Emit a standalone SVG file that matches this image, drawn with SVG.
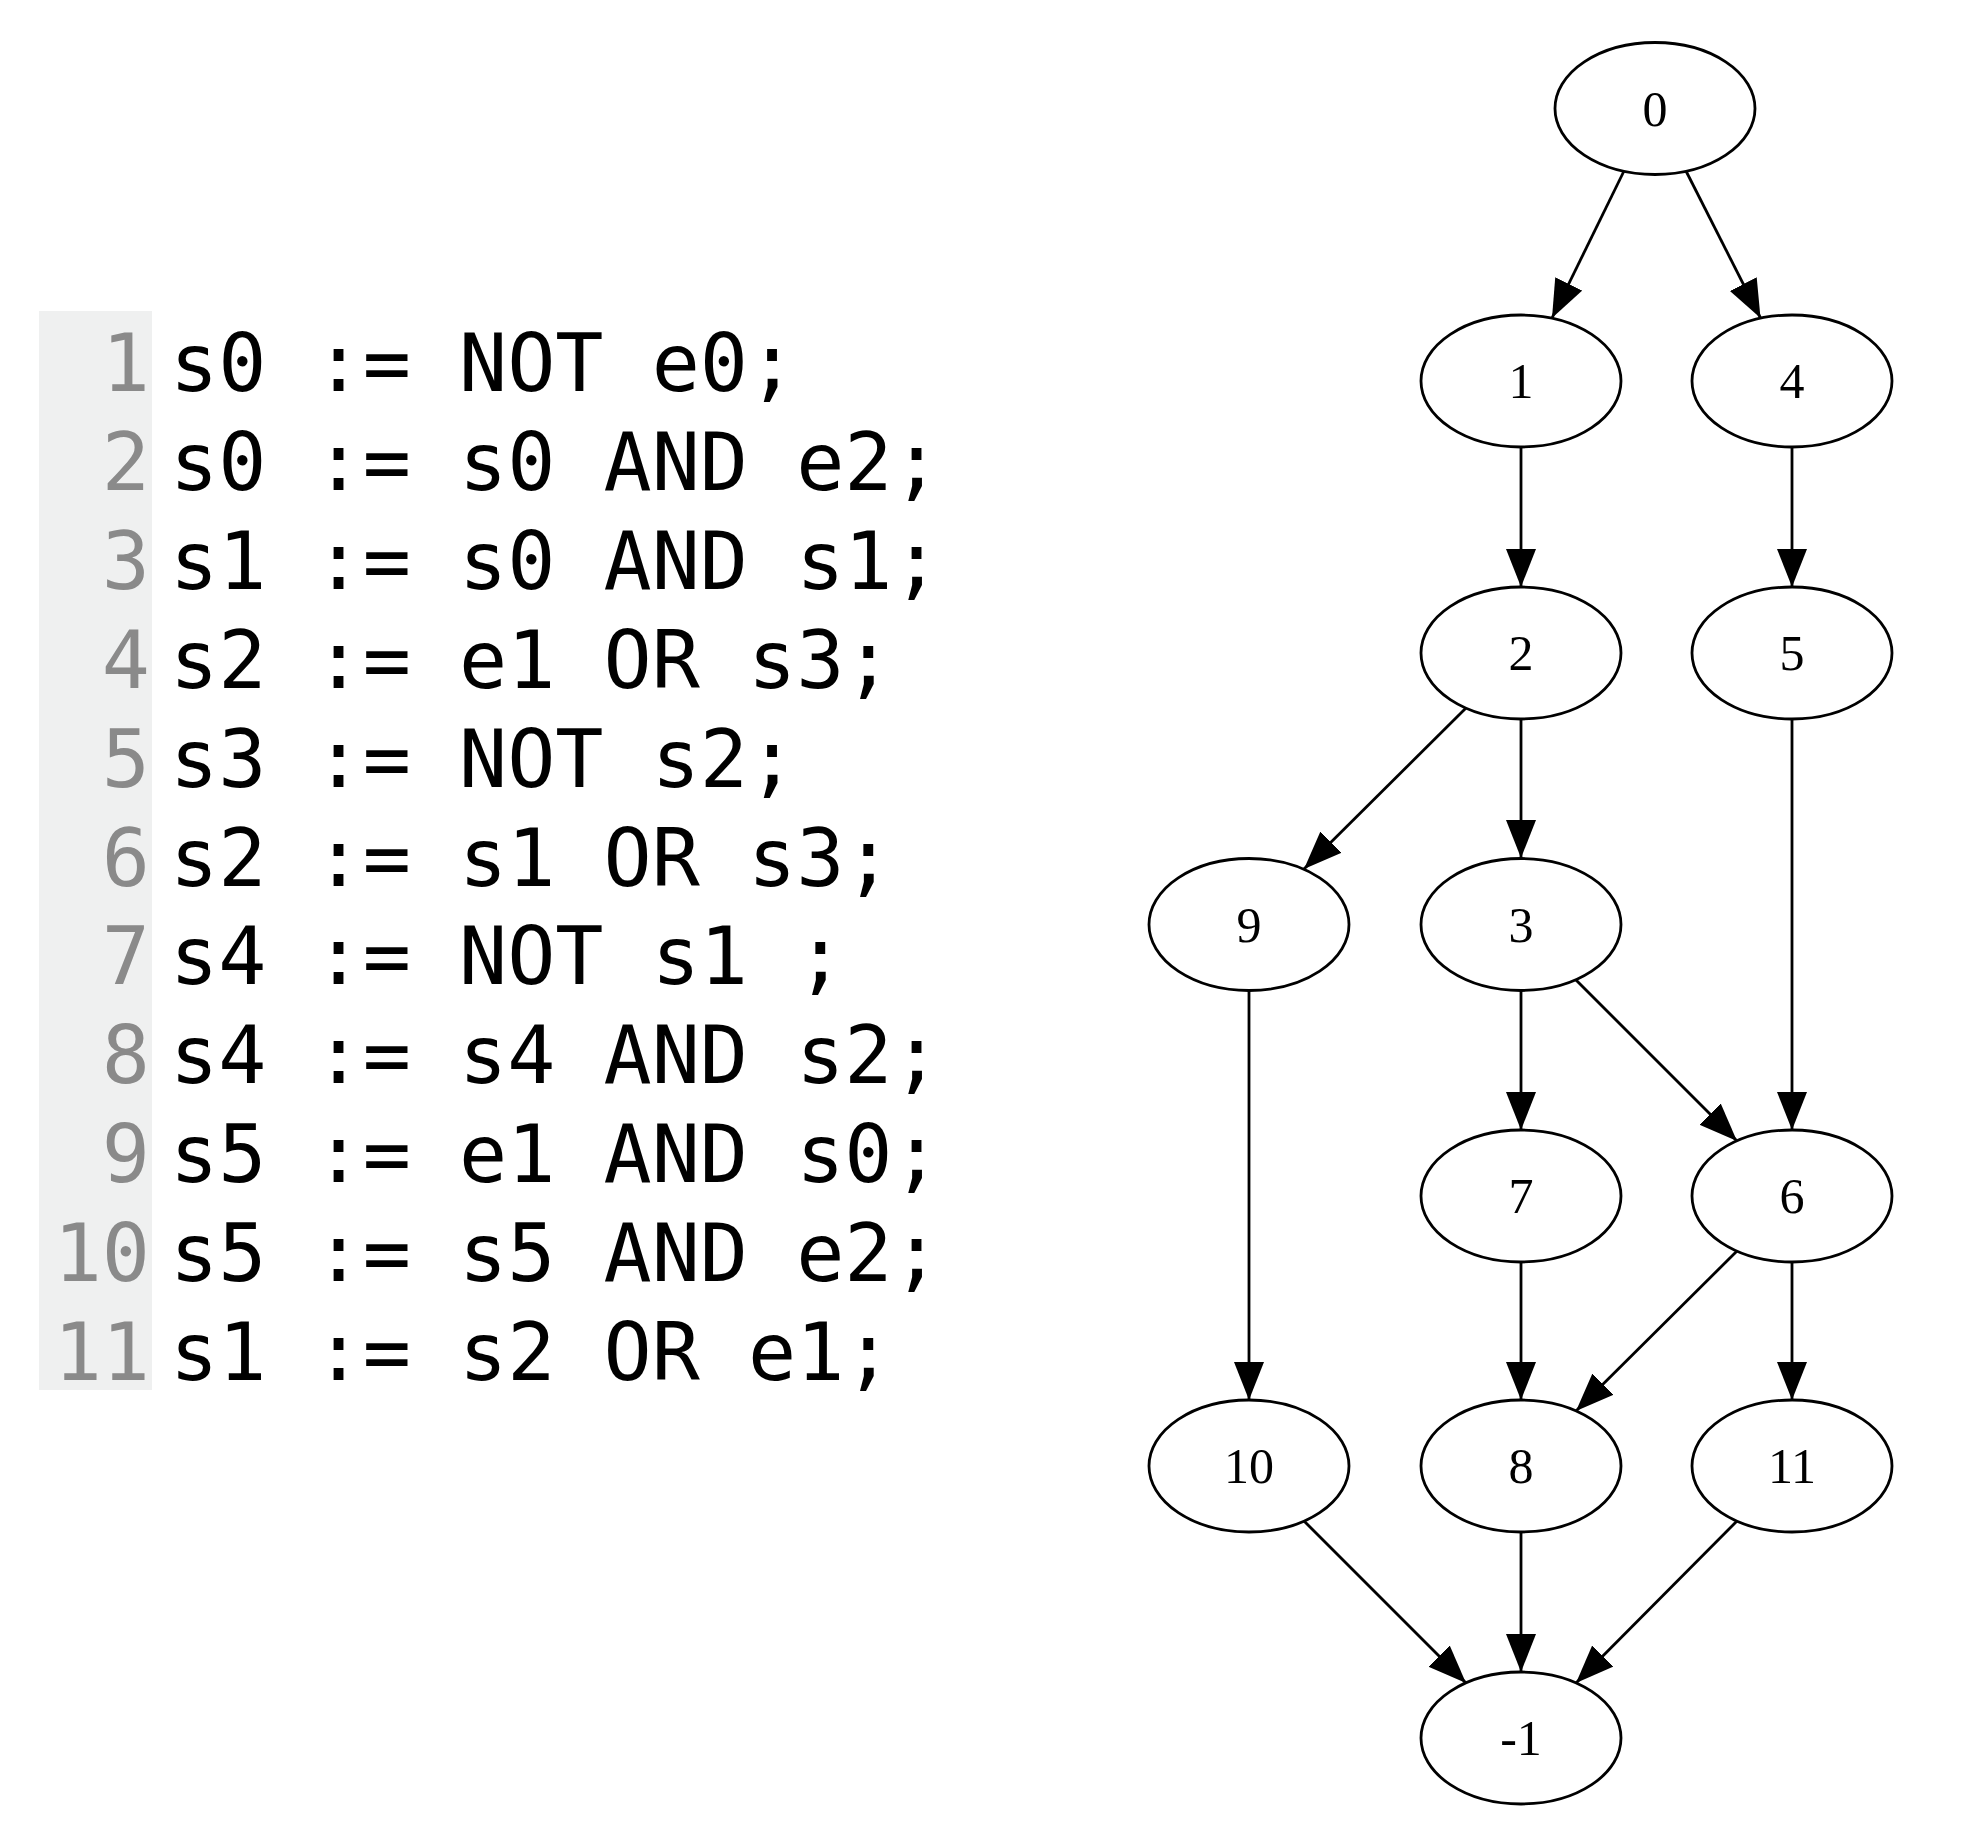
<svg xmlns="http://www.w3.org/2000/svg" width="1961" height="1840" viewBox="0 0 1961 1840">
<style>
.code{font-family:"DejaVu Sans Mono",monospace;font-size:80px;fill:#000;white-space:pre}
.ln{font-family:"DejaVu Sans Mono",monospace;font-size:80px;fill:#8a8a8a;text-anchor:end}
.node ellipse{fill:#fff;stroke:#000;stroke-width:2.8}
.node text{font-family:"Liberation Serif",serif;font-size:50px;text-anchor:middle;fill:#000}
.edges line{stroke:#000;stroke-width:2.8;marker-end:url(#arr)}
</style>
<defs>
<marker id="arr" markerUnits="userSpaceOnUse" markerWidth="44" markerHeight="34" refX="38" refY="15" orient="auto">
<path d="M0,0 L38,15 L0,30 Z" fill="#000"/>
</marker>
</defs>
<rect width="1961" height="1840" fill="#fff"/>
<g id="code">
<rect x="39" y="311" width="113" height="1079" fill="#eff0f0"/>
<text class="ln" x="150" y="391">1</text><text class="code" x="170" y="391">s0 := NOT e0;</text>
<text class="ln" x="150" y="489.9">2</text><text class="code" x="170" y="489.9">s0 := s0 AND e2;</text>
<text class="ln" x="150" y="588.8">3</text><text class="code" x="170" y="588.8">s1 := s0 AND s1;</text>
<text class="ln" x="150" y="687.7">4</text><text class="code" x="170" y="687.7">s2 := e1 OR s3;</text>
<text class="ln" x="150" y="786.6">5</text><text class="code" x="170" y="786.6">s3 := NOT s2;</text>
<text class="ln" x="150" y="885.5">6</text><text class="code" x="170" y="885.5">s2 := s1 OR s3;</text>
<text class="ln" x="150" y="984.4">7</text><text class="code" x="170" y="984.4">s4 := NOT s1 ;</text>
<text class="ln" x="150" y="1083.3">8</text><text class="code" x="170" y="1083.3">s4 := s4 AND s2;</text>
<text class="ln" x="150" y="1182.2">9</text><text class="code" x="170" y="1182.2">s5 := e1 AND s0;</text>
<text class="ln" x="150" y="1281.1">10</text><text class="code" x="170" y="1281.1">s5 := s5 AND e2;</text>
<text class="ln" x="150" y="1380">11</text><text class="code" x="170" y="1380">s1 := s2 OR e1;</text>
</g>
<g class="edges" id="edges">
<line x1="1624" y1="171" x2="1552" y2="318"/>
<line x1="1686" y1="171" x2="1760.5" y2="318"/>
<line x1="1521" y1="447" x2="1521" y2="587"/>
<line x1="1792" y1="447" x2="1792" y2="587"/>
<line x1="1466" y1="708" x2="1304" y2="869"/>
<line x1="1521" y1="719" x2="1521" y2="858"/>
<line x1="1792" y1="719" x2="1792" y2="1130"/>
<line x1="1249" y1="990" x2="1249" y2="1400"/>
<line x1="1521" y1="990" x2="1521" y2="1130"/>
<line x1="1576" y1="980" x2="1737" y2="1141"/>
<line x1="1521" y1="1262" x2="1521" y2="1400"/>
<line x1="1737" y1="1251" x2="1576" y2="1411"/>
<line x1="1792" y1="1262" x2="1792" y2="1400"/>
<line x1="1304" y1="1521" x2="1466" y2="1683"/>
<line x1="1521" y1="1532" x2="1521" y2="1672"/>
<line x1="1737" y1="1521" x2="1576" y2="1683"/>
</g>
<g class="node" id="n0"><ellipse cx="1655" cy="108.5" rx="100" ry="66"/><text x="1655" y="126">0</text></g>
<g class="node" id="n1"><ellipse cx="1521" cy="381" rx="100" ry="66"/><text x="1521" y="398">1</text></g>
<g class="node" id="n4"><ellipse cx="1792" cy="381" rx="100" ry="66"/><text x="1792" y="398">4</text></g>
<g class="node" id="n2"><ellipse cx="1521" cy="653" rx="100" ry="66"/><text x="1521" y="670">2</text></g>
<g class="node" id="n5"><ellipse cx="1792" cy="653" rx="100" ry="66"/><text x="1792" y="670">5</text></g>
<g class="node" id="n9"><ellipse cx="1249" cy="924.5" rx="100" ry="66"/><text x="1249" y="942">9</text></g>
<g class="node" id="n3"><ellipse cx="1521" cy="924.5" rx="100" ry="66"/><text x="1521" y="942">3</text></g>
<g class="node" id="n7"><ellipse cx="1521" cy="1196" rx="100" ry="66"/><text x="1521" y="1213">7</text></g>
<g class="node" id="n6"><ellipse cx="1792" cy="1196" rx="100" ry="66"/><text x="1792" y="1213">6</text></g>
<g class="node" id="n10"><ellipse cx="1249" cy="1466" rx="100" ry="66"/><text x="1249" y="1483">10</text></g>
<g class="node" id="n8"><ellipse cx="1521" cy="1466" rx="100" ry="66"/><text x="1521" y="1483">8</text></g>
<g class="node" id="n11"><ellipse cx="1792" cy="1466" rx="100" ry="66"/><text x="1792" y="1483">11</text></g>
<g class="node" id="nm1"><ellipse cx="1521" cy="1738" rx="100" ry="66"/><text x="1521" y="1755">-1</text></g>
</svg>
